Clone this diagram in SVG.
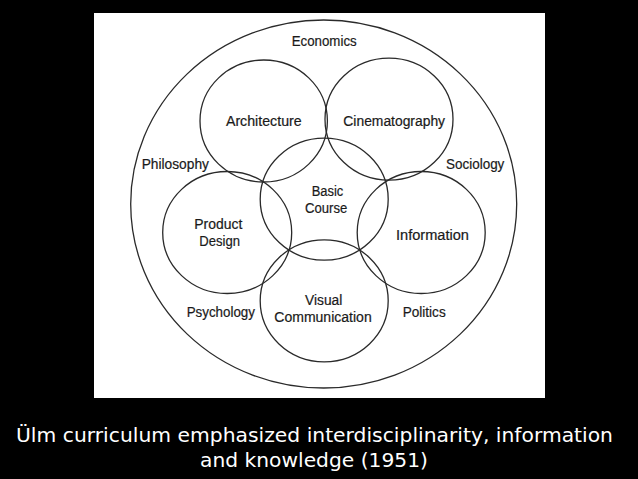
<svg xmlns="http://www.w3.org/2000/svg" width="638" height="479" viewBox="0 0 638 479">
<style>
.c{fill:none;stroke:#2a2a2a;stroke-width:1.3}
.t{font-family:"Liberation Sans",Arial,sans-serif;font-size:14px;fill:#1a1a1a;text-anchor:middle;stroke:#1a1a1a;stroke-width:0.2}
.cap{font-family:"DejaVu Sans",Verdana,sans-serif;font-size:19px;fill:#ffffff;text-anchor:middle}
</style>
<rect x="0" y="0" width="638" height="479" fill="#000"/>
<rect x="94" y="13" width="451" height="385" fill="#fff"/>
<g id="outer">
<ellipse class="c" cx="323.7" cy="204" rx="193" ry="184"/>
<text class="t" x="324.2" y="45.5" textLength="65" lengthAdjust="spacingAndGlyphs">Economics</text>
<text class="t" x="175.3" y="168.5" textLength="67.3" lengthAdjust="spacingAndGlyphs">Philosophy</text>
<text class="t" x="475.2" y="168.5" textLength="58.3" lengthAdjust="spacingAndGlyphs">Sociology</text>
<text class="t" x="220.8" y="316.5" textLength="68.3" lengthAdjust="spacingAndGlyphs">Psychology</text>
<text class="t" x="424.2" y="316.5" textLength="43" lengthAdjust="spacingAndGlyphs">Politics</text>
</g>
<g id="architecture">
<ellipse class="c" cx="263.7" cy="121" rx="63.7" ry="61"/>
<text class="t" x="263.8" y="125.5" textLength="75.7" lengthAdjust="spacingAndGlyphs">Architecture</text>
</g>
<g id="cinematography">
<ellipse class="c" cx="389" cy="119.2" rx="64" ry="61"/>
<text class="t" x="394.2" y="125.5" textLength="101.7" lengthAdjust="spacingAndGlyphs">Cinematography</text>
</g>
<g id="basic-course">
<ellipse class="c" cx="324.2" cy="199.2" rx="64" ry="61"/>
<text class="t" x="327.5" y="196" textLength="31.6" lengthAdjust="spacingAndGlyphs">Basic</text>
<text class="t" x="326.2" y="213.3" textLength="42.3" lengthAdjust="spacingAndGlyphs">Course</text>
</g>
<g id="product-design">
<ellipse class="c" cx="227.2" cy="232.5" rx="64.5" ry="61"/>
<text class="t" x="218.3" y="229.3" textLength="48" lengthAdjust="spacingAndGlyphs">Product</text>
<text class="t" x="219.7" y="246" textLength="40.7" lengthAdjust="spacingAndGlyphs">Design</text>
</g>
<g id="information">
<ellipse class="c" cx="421.2" cy="232.5" rx="64" ry="61"/>
<text class="t" x="432.5" y="240.3" textLength="73" lengthAdjust="spacingAndGlyphs">Information</text>
</g>
<g id="visual-communication">
<ellipse class="c" cx="324.2" cy="300.8" rx="64" ry="61"/>
<text class="t" x="323.7" y="305" textLength="37.3" lengthAdjust="spacingAndGlyphs">Visual</text>
<text class="t" x="323" y="322.3" textLength="97.4" lengthAdjust="spacingAndGlyphs">Communication</text>
</g>
<g id="connectors"></g>
<g id="caption">
<text class="cap" x="314.5" y="441.7" textLength="597" lengthAdjust="spacingAndGlyphs">Ülm curriculum emphasized interdisciplinarity, information</text>
<text class="cap" x="314" y="466.7" textLength="228" lengthAdjust="spacingAndGlyphs">and knowledge (1951)</text>
</g>
</svg>
